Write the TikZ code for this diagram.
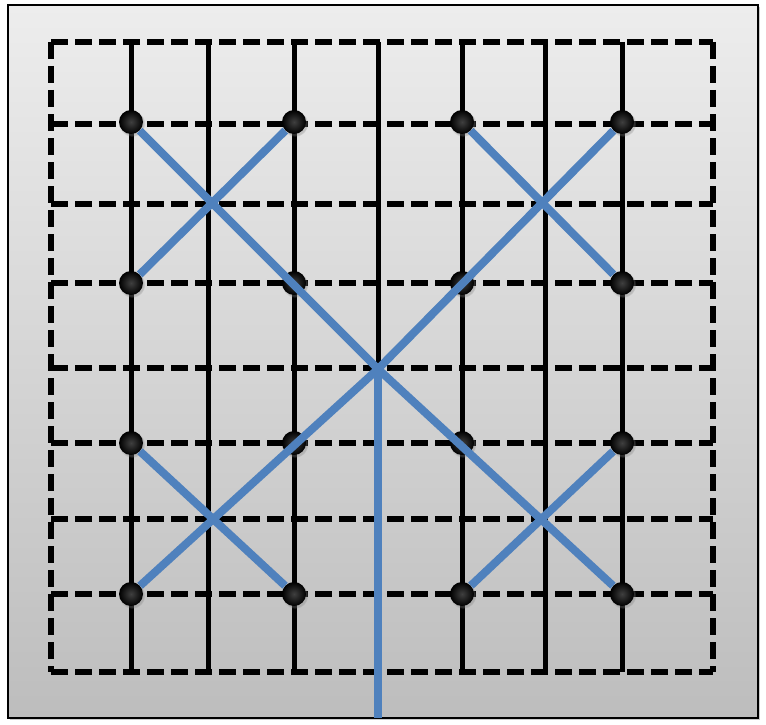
\documentclass[tikz,border=0pt]{standalone}
\usetikzlibrary{shadows}
\definecolor{lineblue}{RGB}{79,129,189}
\definecolor{paneltop}{RGB}{237,237,237}
\definecolor{panelbottom}{RGB}{189,189,189}
\tikzset{
  gridrow/.style={line width=6pt, dash pattern=on 17pt off 7pt},
  gridcol/.style={line width=5pt},
  dot/.style={circle, inner sep=0pt, minimum size=24pt, inner color=black!75, outer color=black,
    circular drop shadow={shadow xshift=1pt, shadow yshift=-1.5pt, opacity=.35}},
  bluelink/.style={lineblue, line width=8pt},
}
\begin{document}
\begin{tikzpicture}[x=1pt, y=-1pt]
  \useasboundingbox (0,0) rectangle (766,725);
  \fill[top color=paneltop, bottom color=panelbottom, draw=black, line width=1.5pt,
    drop shadow={shadow xshift=2pt, shadow yshift=-2pt, opacity=.4}] (8,5) rectangle (758,718);

  % dashed rows
  \draw[gridrow] (51,42) -- (713,42);
  \draw[gridrow] (51,124) -- (713,124);
  \draw[gridrow] (51,204) -- (713,204);
  \draw[gridrow] (51,283) -- (713,283);
  \draw[gridrow] (51,368) -- (713,368);
  \draw[gridrow] (51,443) -- (713,443);
  \draw[gridrow] (51,519) -- (713,519);
  \draw[gridrow] (51,594) -- (713,594);
  \draw[gridrow] (51,672) -- (713,672);
  \draw[gridrow] (51,42) -- (51,672);
  \draw[gridrow] (713,42) -- (713,672);

  % solid columns
  \draw[gridcol] (131,42) -- (131,672);
  \draw[gridcol] (208,42) -- (208,672);
  \draw[gridcol] (294,42) -- (294,672);
  \draw[gridcol] (378,42) -- (378,672);
  \draw[gridcol] (462,42) -- (462,672);
  \draw[gridcol] (545,42) -- (545,672);
  \draw[gridcol] (622,42) -- (622,672);

  \path
    node[dot] (a1) at (131,122) {}
    node[dot] (a2) at (294,122) {}
    node[dot] (a3) at (462,122) {}
    node[dot] (a4) at (622,122) {}
    node[dot] (b1) at (131,283) {}
    node[dot] (b2) at (294,283) {}
    node[dot] (b3) at (462,283) {}
    node[dot] (b4) at (622,283) {}
    node[dot] (c1) at (131,443) {}
    node[dot] (c2) at (294,443) {}
    node[dot] (c3) at (462,443) {}
    node[dot] (c4) at (622,443) {}
    node[dot] (d1) at (131,594) {}
    node[dot] (d2) at (294,594) {}
    node[dot] (d3) at (462,594) {}
    node[dot] (d4) at (622,594) {}
    coordinate (hub)  at (378,369)
    coordinate (stem) at (378,718)
  ;

  \draw[bluelink] (a1) -- (hub) -- (d4);
  \draw[bluelink] (a4) -- (hub) -- (d1);
  \draw[bluelink] (hub) -- (stem);
  \draw[bluelink] (a2) -- (b1);
  \draw[bluelink] (a3) -- (b4);
  \draw[bluelink] (c1) -- (d2);
  \draw[bluelink] (d3) -- (c4);
\end{tikzpicture}
\end{document}
